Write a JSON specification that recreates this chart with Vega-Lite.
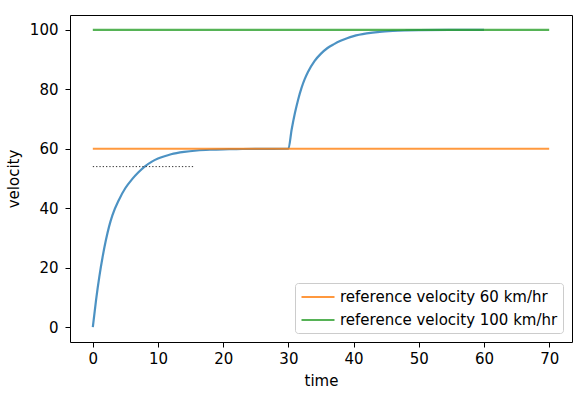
{
  "$schema": "https://vega.github.io/schema/vega-lite/v6.json",
  "width": 502,
  "height": 327,
  "autosize": {"type": "none"},
  "padding": {"left": 70, "top": 15, "right": 16, "bottom": 52},
  "background": "white",
  "config": {
    "view": {"stroke": "#000", "strokeWidth": 1},
    "font": "DejaVu Sans",
    "axis": {
      "grid": false,
      "domain": false,
      "tickColor": "#000",
      "tickSize": 5,
      "tickWidth": 1,
      "labelColor": "#000",
      "labelFontSize": 15,
      "labelFont": "DejaVu Sans",
      "titleFont": "DejaVu Sans",
      "titleFontSize": 15,
      "titleFontWeight": "normal",
      "titleColor": "#000"
    },
    "legend": {
      "labelFont": "DejaVu Sans",
      "labelFontSize": 15,
      "labelColor": "#000",
      "labelLimit": 0
    }
  },
  "data": {
    "values": [
      {"series": "response", "t": 0, "v": 0},
      {"series": "response", "t": 0.5, "v": 9.2},
      {"series": "response", "t": 1, "v": 17.0},
      {"series": "response", "t": 1.5, "v": 23.6},
      {"series": "response", "t": 2, "v": 29.2},
      {"series": "response", "t": 2.5, "v": 33.9},
      {"series": "response", "t": 3, "v": 37.6},
      {"series": "response", "t": 4, "v": 42.8},
      {"series": "response", "t": 5, "v": 46.8},
      {"series": "response", "t": 6, "v": 49.7},
      {"series": "response", "t": 7, "v": 52.1},
      {"series": "response", "t": 8, "v": 54.1},
      {"series": "response", "t": 9, "v": 55.6},
      {"series": "response", "t": 10, "v": 56.7},
      {"series": "response", "t": 11, "v": 57.5},
      {"series": "response", "t": 12, "v": 58.15},
      {"series": "response", "t": 14, "v": 58.96},
      {"series": "response", "t": 16, "v": 59.42},
      {"series": "response", "t": 18, "v": 59.67},
      {"series": "response", "t": 20, "v": 59.82},
      {"series": "response", "t": 22, "v": 59.9},
      {"series": "response", "t": 25, "v": 59.97},
      {"series": "response", "t": 30, "v": 60.0},
      {"series": "response", "t": 30.5, "v": 66.5},
      {"series": "response", "t": 31, "v": 72.0},
      {"series": "response", "t": 31.5, "v": 76.6},
      {"series": "response", "t": 32, "v": 80.4},
      {"series": "response", "t": 32.5, "v": 83.4},
      {"series": "response", "t": 33, "v": 85.8},
      {"series": "response", "t": 34, "v": 89.5},
      {"series": "response", "t": 35, "v": 92.0},
      {"series": "response", "t": 36, "v": 93.9},
      {"series": "response", "t": 37, "v": 95.2},
      {"series": "response", "t": 38, "v": 96.3},
      {"series": "response", "t": 39, "v": 97.2},
      {"series": "response", "t": 40, "v": 97.9},
      {"series": "response", "t": 42, "v": 98.8},
      {"series": "response", "t": 44, "v": 99.35},
      {"series": "response", "t": 46, "v": 99.64},
      {"series": "response", "t": 48, "v": 99.8},
      {"series": "response", "t": 50, "v": 99.9},
      {"series": "response", "t": 55, "v": 99.98},
      {"series": "response", "t": 60, "v": 100.0},
      {"series": "reference velocity 60 km/hr", "t": 0, "v": 60},
      {"series": "reference velocity 60 km/hr", "t": 70, "v": 60},
      {"series": "reference velocity 100 km/hr", "t": 0, "v": 100},
      {"series": "reference velocity 100 km/hr", "t": 70, "v": 100},
      {"series": "ninety", "t": 0, "v": 54},
      {"series": "ninety", "t": 15.4, "v": 54}
    ]
  },
  "encoding": {
    "x": {
      "field": "t", "type": "quantitative",
      "scale": {"domain": [-3.5, 73.5], "nice": false, "zero": false},
      "axis": {"values": [0, 10, 20, 30, 40, 50, 60, 70], "title": "time", "labelPadding": 4, "titlePadding": 7}
    },
    "y": {
      "field": "v", "type": "quantitative",
      "scale": {"domain": [-5, 105], "nice": false, "zero": false},
      "axis": {"values": [0, 20, 40, 60, 80, 100], "title": "velocity", "labelPadding": 7, "titlePadding": 8}
    }
  },
  "layer": [
    {
      "transform": [{"filter": "datum.series === 'response'"}],
      "mark": {"type": "line", "color": "#1f77b4", "strokeWidth": 2.2, "opacity": 0.8, "interpolate": "monotone"}
    },
    {
      "transform": [{"filter": "datum.series === 'reference velocity 60 km/hr'"}],
      "mark": {"type": "line", "strokeWidth": 2.2, "opacity": 0.8},
      "encoding": {
        "color": {
          "field": "series", "type": "nominal",
          "scale": {"domain": ["reference velocity 60 km/hr", "reference velocity 100 km/hr"], "range": ["#ff7f0e", "#2ca02c"]},
          "legend": {
            "title": null,
            "orient": "bottom-right",
            "offset": 9,
            "padding": 5,
            "strokeColor": "#cccccc",
            "fillColor": "rgba(255,255,255,0.8)",
            "cornerRadius": 3,
            "symbolType": "M-1,0L3.4,0",
            "symbolSize": 225,
            "symbolStrokeWidth": 2.2,
            "symbolOpacity": 0.8,
            "labelOffset": 22,
            "rowPadding": 6
          }
        }
      }
    },
    {
      "transform": [{"filter": "datum.series === 'reference velocity 100 km/hr'"}],
      "mark": {"type": "line", "strokeWidth": 2.2, "opacity": 0.8},
      "encoding": {
        "color": {"field": "series", "type": "nominal"}
      }
    },
    {
      "transform": [{"filter": "datum.series === 'ninety'"}],
      "mark": {"type": "line", "color": "#333", "strokeWidth": 1, "strokeDash": [1.3, 2]}
    }
  ]
}
